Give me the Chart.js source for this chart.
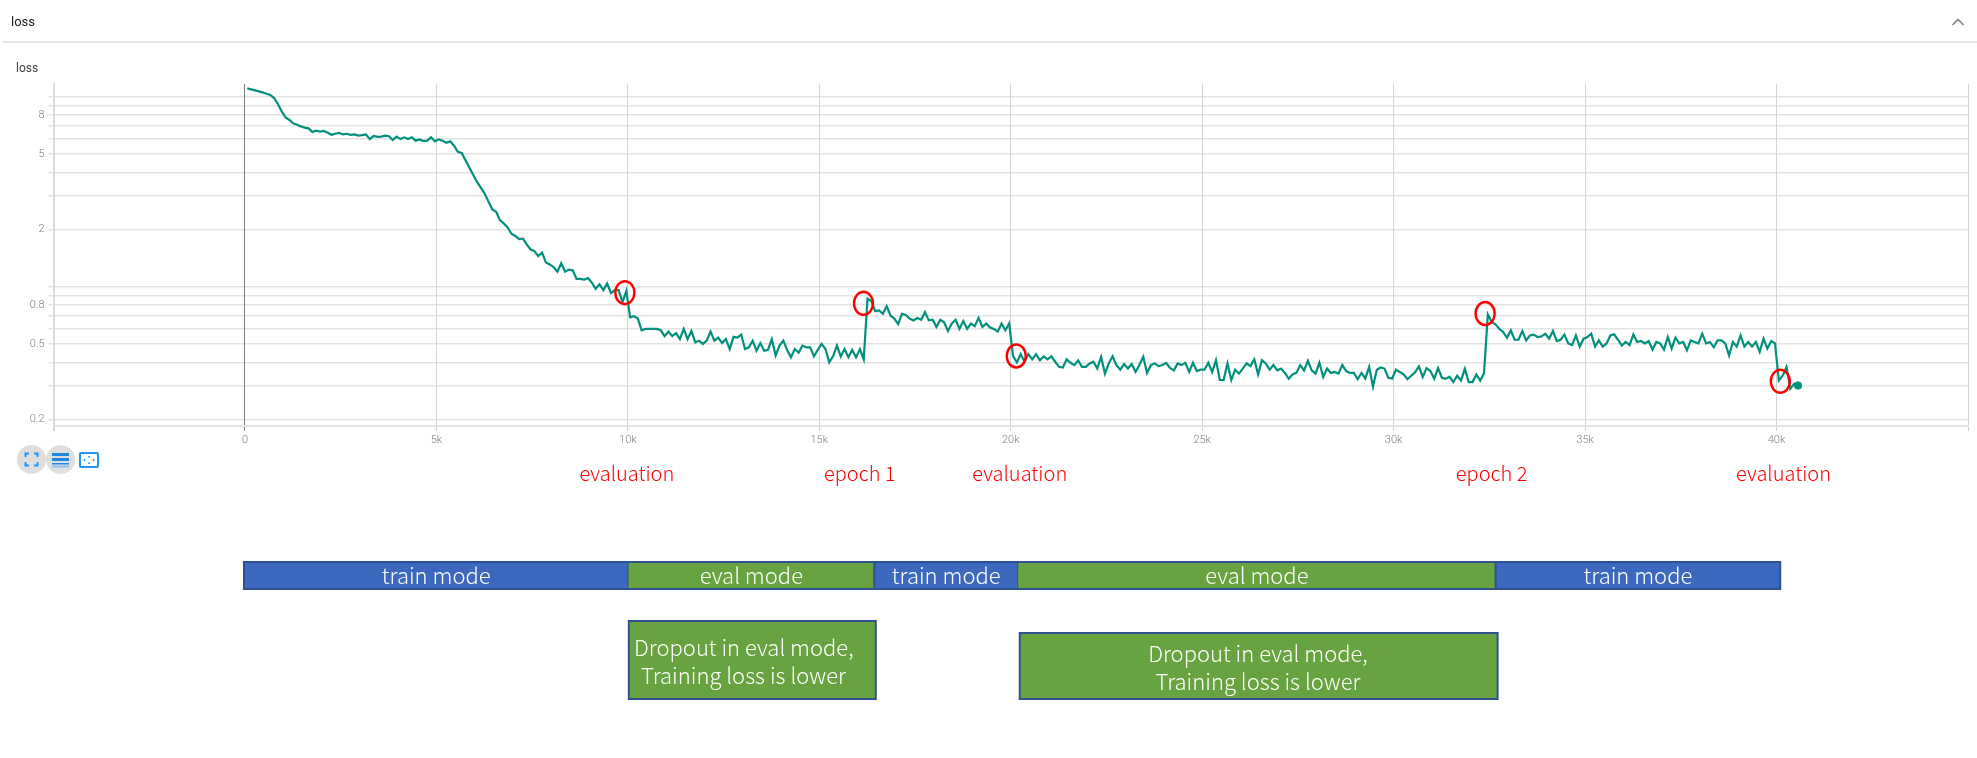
<!DOCTYPE html>
<html>
<head>
<meta charset="utf-8">
<title>loss</title>
<script src="https://cdn.jsdelivr.net/npm/chart.js@4"></script>
<style>
  html, body { margin: 0; padding: 0; background: #fff; }
  #page { position: relative; width: 1977px; height: 758px; overflow: hidden; font-family: Roboto, sans-serif; }
  #myChart { position: absolute; left: 0; top: 0; }
  .heading { position: absolute; left: 11px; top: 14px; font-size: 13px; color: #212121; }
  .card-title { position: absolute; left: 16px; top: 61px; font-size: 12px; color: #424242; }
  .rule { position: absolute; left: 3px; right: 0; top: 41px; height: 2px; background: #e4e4e4; }
  .chevron { position: absolute; left: 1951px; top: 17px; }
  .tool { position: absolute; top: 445px; width: 29px; height: 29px; border-radius: 50%; background: #dedede; }
  .tool svg, .fit svg { position: absolute; left: 0; top: 0; }
  .fit { position: absolute; left: 79px; top: 452px; width: 20px; height: 16px; }
</style>
</head>
<body>
<div id="page">
  <canvas id="myChart" width="1977" height="758"></canvas>
  <div class="heading">loss</div>
  <div class="rule"></div>
  <div class="card-title">loss</div>
  <svg class="chevron" width="14" height="10"><path d="M1.5 8 L7 2.5 L12.5 8" fill="none" stroke="#808080" stroke-width="1.6"/></svg>
  <div class="tool" style="left:17px">
    <svg width="29" height="29"><path d="M8.5 12 V8.5 H12 M17 8.5 H20.5 V12 M20.5 17 V20.5 H17 M12 20.5 H8.5 V17" fill="none" stroke="#2196f3" stroke-width="2"/></svg>
  </div>
  <div class="tool" style="left:46px">
    <svg width="29" height="29"><rect x="6" y="8" width="17" height="3" fill="#1e88e5"/><rect x="6" y="13" width="17" height="3" fill="#1e88e5"/><rect x="6" y="18" width="17" height="1.5" fill="#1e88e5"/><rect x="6" y="20.5" width="17" height="2" fill="#90bde8"/></svg>
  </div>
  <div class="fit">
    <svg width="20" height="16"><rect x="1" y="1" width="18" height="14" rx="1" fill="#fff" stroke="#2196f3" stroke-width="2"/><path d="M10 3.5 L8.5 5.5 H11.5 Z M10 12.5 L8.5 10.5 H11.5 Z M4 8 L6 6.5 V9.5 Z M16 8 L14 6.5 V9.5 Z" fill="#2196f3"/></svg>
  </div>
</div>
<script>
// Data
const steps = [
  60,160,260,360,460,560,660,760,860,960,
  1060,1160,1260,1360,1460,1560,1660,1760,1860,1960,
  2060,2160,2260,2360,2460,2560,2660,2760,2860,2960,
  3060,3160,3260,3360,3460,3560,3660,3760,3860,3960,
  4060,4160,4260,4360,4460,4560,4660,4760,4860,4960,
  5060,5160,5260,5360,5460,5560,5660,5760,5860,5960,
  6060,6160,6260,6360,6460,6560,6660,6760,6860,6960,
  7060,7160,7260,7360,7460,7560,7660,7760,7860,7960,
  8060,8160,8260,8360,8460,8560,8660,8760,8860,8960,
  9060,9160,9260,9360,9460,9560,9660,9760,9860,9960,
  10060,10160,10260,10360,10460,10560,10660,10760,10860,10960,
  11060,11160,11260,11360,11460,11560,11660,11760,11860,11960,
  12060,12160,12260,12360,12460,12560,12660,12760,12860,12960,
  13060,13160,13260,13360,13460,13560,13660,13760,13860,13960,
  14060,14160,14260,14360,14460,14560,14660,14760,14860,14960,
  15060,15160,15260,15360,15460,15560,15660,15760,15860,15960,
  16060,16160,16260,16360,16460,16560,16660,16760,16860,16960,
  17060,17160,17260,17360,17460,17560,17660,17760,17860,17960,
  18060,18160,18260,18360,18460,18560,18660,18760,18860,18960,
  19060,19160,19260,19360,19460,19560,19660,19760,19860,19960,
  20060,20160,20260,20360,20460,20560,20660,20760,20860,20960,
  21060,21160,21260,21360,21460,21560,21660,21760,21860,21960,
  22060,22160,22260,22360,22460,22560,22660,22760,22860,22960,
  23060,23160,23260,23360,23460,23560,23660,23760,23860,23960,
  24060,24160,24260,24360,24460,24560,24660,24760,24860,24960,
  25060,25160,25260,25360,25460,25560,25660,25760,25860,25960,
  26060,26160,26260,26360,26460,26560,26660,26760,26860,26960,
  27060,27160,27260,27360,27460,27560,27660,27760,27860,27960,
  28060,28160,28260,28360,28460,28560,28660,28760,28860,28960,
  29060,29160,29260,29360,29460,29560,29660,29760,29860,29960,
  30060,30160,30260,30360,30460,30560,30660,30760,30860,30960,
  31060,31160,31260,31360,31460,31560,31660,31760,31860,31960,
  32060,32160,32260,32360,32460,32560,32660,32760,32860,32960,
  33060,33160,33260,33360,33460,33560,33660,33760,33860,33960,
  34060,34160,34260,34360,34460,34560,34660,34760,34860,34960,
  35060,35160,35260,35360,35460,35560,35660,35760,35860,35960,
  36060,36160,36260,36360,36460,36560,36660,36760,36860,36960,
  37060,37160,37260,37360,37460,37560,37660,37760,37860,37960,
  38060,38160,38260,38360,38460,38560,38660,38760,38860,38960,
  39060,39160,39260,39360,39460,39560,39660,39760,39860,39960,
  40060,40160,40260,40360,40460,40560
];
const loss = [
  11.06,10.93,10.8,10.67,10.54,10.37,10.2,9.85,9.15,8.37,
  7.78,7.54,7.24,7.12,6.98,6.87,6.81,6.52,6.62,6.55,
  6.6,6.46,6.3,6.38,6.44,6.33,6.38,6.3,6.33,6.24,
  6.28,6.33,5.98,6.21,6.14,6.16,6.24,6.19,5.91,6.16,
  5.98,6.11,5.98,6.11,5.87,5.96,5.84,5.87,6.11,5.82,
  5.96,5.87,5.72,5.82,5.52,5.13,5.06,4.63,4.24,3.88,
  3.56,3.32,3.09,2.81,2.55,2.48,2.24,2.15,2.05,1.9,
  1.85,1.78,1.79,1.67,1.57,1.54,1.45,1.51,1.34,1.31,
  1.27,1.2,1.33,1.2,1.23,1.22,1.1,1.1,1.09,1.11,
  1.05,.975,1.03,.96,1.04,.925,.96,.96,.83,.95,
  .69,.7,.68,.59,.6,.6,.6,.6,.59,.55,
  .58,.55,.57,.53,.6,.53,.585,.51,.52,.5,
  .52,.58,.52,.54,.505,.53,.47,.545,.54,.56,
  .47,.48,.52,.46,.505,.46,.465,.53,.435,.49,
  .52,.465,.425,.47,.45,.49,.48,.48,.43,.465,
  .5,.47,.4,.43,.49,.43,.47,.425,.465,.425,
  .47,.415,.866,.84,.745,.75,.72,.79,.705,.68,
  .635,.72,.71,.68,.665,.685,.67,.735,.665,.67,
  .615,.67,.65,.585,.64,.67,.6,.66,.6,.64,
  .62,.685,.615,.64,.61,.6,.58,.64,.59,.64,
  .431,.4,.442,.403,.442,.415,.442,.41,.43,.415,
  .43,.403,.379,.376,.415,.398,.387,.41,.379,.379,
  .395,.403,.371,.428,.349,.395,.431,.387,.366,.392,
  .371,.392,.356,.387,.428,.352,.387,.395,.382,.387,
  .397,.374,.363,.395,.387,.398,.356,.398,.36,.366,
  .366,.398,.356,.411,.323,.323,.395,.323,.366,.349,
  .371,.395,.382,.415,.346,.411,.395,.366,.387,.363,
  .371,.352,.328,.346,.352,.387,.363,.408,.363,.349,
  .398,.335,.371,.352,.356,.349,.387,.36,.352,.352,
  .326,.352,.329,.379,.298,.366,.376,.371,.332,.329,
  .366,.356,.346,.326,.34,.355,.381,.335,.373,.36,
  .328,.373,.332,.328,.336,.315,.34,.321,.37,.315,
  .315,.345,.321,.35,.716,.652,.634,.6,.578,.539,
  .59,.526,.526,.585,.522,.554,.56,.544,.548,.566,
  .533,.585,.518,.526,.56,.503,.493,.554,.484,.533,
  .544,.566,.484,.522,.484,.503,.554,.562,.526,.49,
  .512,.493,.56,.512,.518,.503,.518,.467,.512,.503,
  .467,.544,.473,.539,.503,.512,.463,.522,.512,.503,
  .566,.503,.512,.48,.522,.522,.503,.435,.512,.484,
  .554,.484,.512,.484,.512,.454,.533,.473,.518,.503,
  .321,.34,.378,.291,.308,.302
];
const yTickValues = [0.2, 0.3, 0.4, 0.5, 0.6, 0.7, 0.8, 0.9, 1, 2, 3, 4, 5, 6, 7, 8, 9, 10];
const yTickLabels = { 0.2: '0.2', 0.5: '0.5', 0.8: '0.8', 2: '2', 5: '5', 8: '8' };
const xTickLabels = { 0: '0', 5000: '5k', 10000: '10k', 15000: '15k', 20000: '20k', 25000: '25k', 30000: '30k', 35000: '35k', 40000: '40k' };

// Red rings around the jumps in the curve
const ringSteps = [9922, 16154, 20144, 32389, 40099];
const ringLoss = [0.93, 0.818, 0.432, 0.723, 0.318];

// Red captions under the axis
const captionNames = ['evaluation', 'epoch 1', 'evaluation', 'epoch 2', 'evaluation'];
const captionSteps = [9974, 16057, 20235, 32559, 40183];

// Train / eval strip
const modeNames = ['train mode', 'eval mode', 'train mode', 'eval mode', 'train mode'];
const modeStarts = [-26, 10016, 16436, 20193, 32663];
const modeEnds = [10016, 16436, 20193, 32663, 40096];

// Green note boxes
const noteStarts = [10026, 20235];
const noteEnds = [16475, 32715];

const TEAL = '#00907c';
const RED = '#ff0000';
const BLUE = '#3c69bd';
const GREEN = '#67a340';
const EDGE = '#2f528f';
const LIGHT_FONT = '300 22px "Noto Sans CJK SC", "Noto Sans", sans-serif';
const CAPTION_FONT = '300 20px "Noto Sans CJK SC", "Noto Sans", sans-serif';

// Everything that sits around the curve but still follows the x axis
const annotations = {
  id: 'annotations',
  afterDraw(chart) {
    const ctx = chart.ctx;
    const x = chart.scales.x;
    const y = chart.scales.y;
    ctx.save();

    // rings
    ctx.strokeStyle = RED;
    ctx.lineWidth = 2.4;
    ringSteps.forEach((s, i) => {
      ctx.beginPath();
      ctx.ellipse(x.getPixelForValue(s), y.getPixelForValue(ringLoss[i]), 9.5, 11.5, 0, 0, Math.PI * 2);
      ctx.stroke();
    });

    // captions
    ctx.font = CAPTION_FONT;
    ctx.textAlign = 'center';
    ctx.textBaseline = 'middle';
    ctx.fillStyle = RED;
    captionNames.forEach((name, i) => {
      ctx.fillText(name, x.getPixelForValue(captionSteps[i]), 473);
    });

    // mode strip
    ctx.font = LIGHT_FONT;
    ctx.lineWidth = 2;
    ctx.strokeStyle = EDGE;
    modeNames.forEach((name, i) => {
      const left = x.getPixelForValue(modeStarts[i]);
      const right = x.getPixelForValue(modeEnds[i]);
      ctx.fillStyle = name === 'train mode' ? BLUE : GREEN;
      ctx.fillRect(left, 562, right - left, 27);
      if (name === 'train mode') ctx.strokeRect(left, 562, right - left, 27);
      ctx.fillStyle = '#ffffff';
      ctx.fillText(name, (left + right) / 2, 576);
    });
    ctx.beginPath();
    ctx.moveTo(x.getPixelForValue(modeStarts[0]), 562);
    ctx.lineTo(x.getPixelForValue(modeEnds[4]), 562);
    ctx.moveTo(x.getPixelForValue(modeStarts[0]), 589);
    ctx.lineTo(x.getPixelForValue(modeEnds[4]), 589);
    ctx.stroke();

    // note boxes
    const noteTops = [621, 633];
    const noteBottom = 699;
    noteStarts.forEach((s, i) => {
      const left = x.getPixelForValue(s);
      const right = x.getPixelForValue(noteEnds[i]);
      ctx.fillStyle = GREEN;
      ctx.fillRect(left, noteTops[i], right - left, noteBottom - noteTops[i]);
      ctx.strokeRect(left, noteTops[i], right - left, noteBottom - noteTops[i]);
    });
    ctx.fillStyle = '#ffffff';
    ctx.textAlign = 'left';
    ctx.fillText('Dropout in eval mode,', 634, 648);
    ctx.fillText('Training loss is lower', 641, 676);
    ctx.textAlign = 'center';
    ctx.fillText('Dropout in eval mode,', 1258, 654);
    ctx.fillText('Training loss is lower', 1258, 682);

    ctx.restore();
  }
};

const ctx = document.getElementById('myChart').getContext('2d');
new Chart(ctx, {
  type: 'line',
  data: {
    datasets: [
      {
        data: steps.map((s, i) => ({ x: s, y: loss[i] })),
        borderColor: TEAL,
        backgroundColor: TEAL,
        borderWidth: 2.2,
        tension: 0,
        pointRadius: (c) => (c.dataIndex === steps.length - 1 ? 4 : 0),
        pointBorderWidth: 0,
      },
    ],
  },
  options: {
    responsive: false,
    animation: false,
    layout: { padding: { top: 84, right: 9, bottom: 307, left: 0 } },
    plugins: {
      legend: { display: false },
      tooltip: { enabled: false },
    },
    scales: {
      x: {
        type: 'linear',
        min: -5000,
        max: 45000,
        afterFit: (axis) => { axis.height = 25; },
        grid: {
          color: (c) => (c.tick.value === 0 ? '#7c7c7c' : '#d4d4d4'),
          lineWidth: (c) => (c.tick.value === -5000 ? 2 : 1),
          tickLength: 5,
          z: -1,
        },
        border: { color: '#e2e2e2', width: 2 },
        ticks: {
          stepSize: 5000,
          maxRotation: 0,
          autoSkip: false,
          padding: 3,
          color: '#7f7f7f',
          font: { family: 'Roboto', size: 11, weight: '300' },
          callback: (v) => xTickLabels[v] || '',
        },
      },
      y: {
        type: 'logarithmic',
        min: 0.185,
        max: 11.66,
        afterFit: (axis) => { axis.width = 53.5; },
        afterBuildTicks: (axis) => { axis.ticks = yTickValues.map((v) => ({ value: v })); },
        grid: { color: '#e3e3e3', lineWidth: 1.5, tickLength: 5, z: -2 },
        border: { color: '#dcdcdc', width: 2 },
        ticks: {
          autoSkip: false,
          padding: 4,
          color: '#7f7f7f',
          font: { family: 'Roboto', size: 11, weight: '300' },
          callback: (v) => yTickLabels[v] || '',
        },
      },
    },
  },
  plugins: [annotations],
});
</script>
</body>
</html>
